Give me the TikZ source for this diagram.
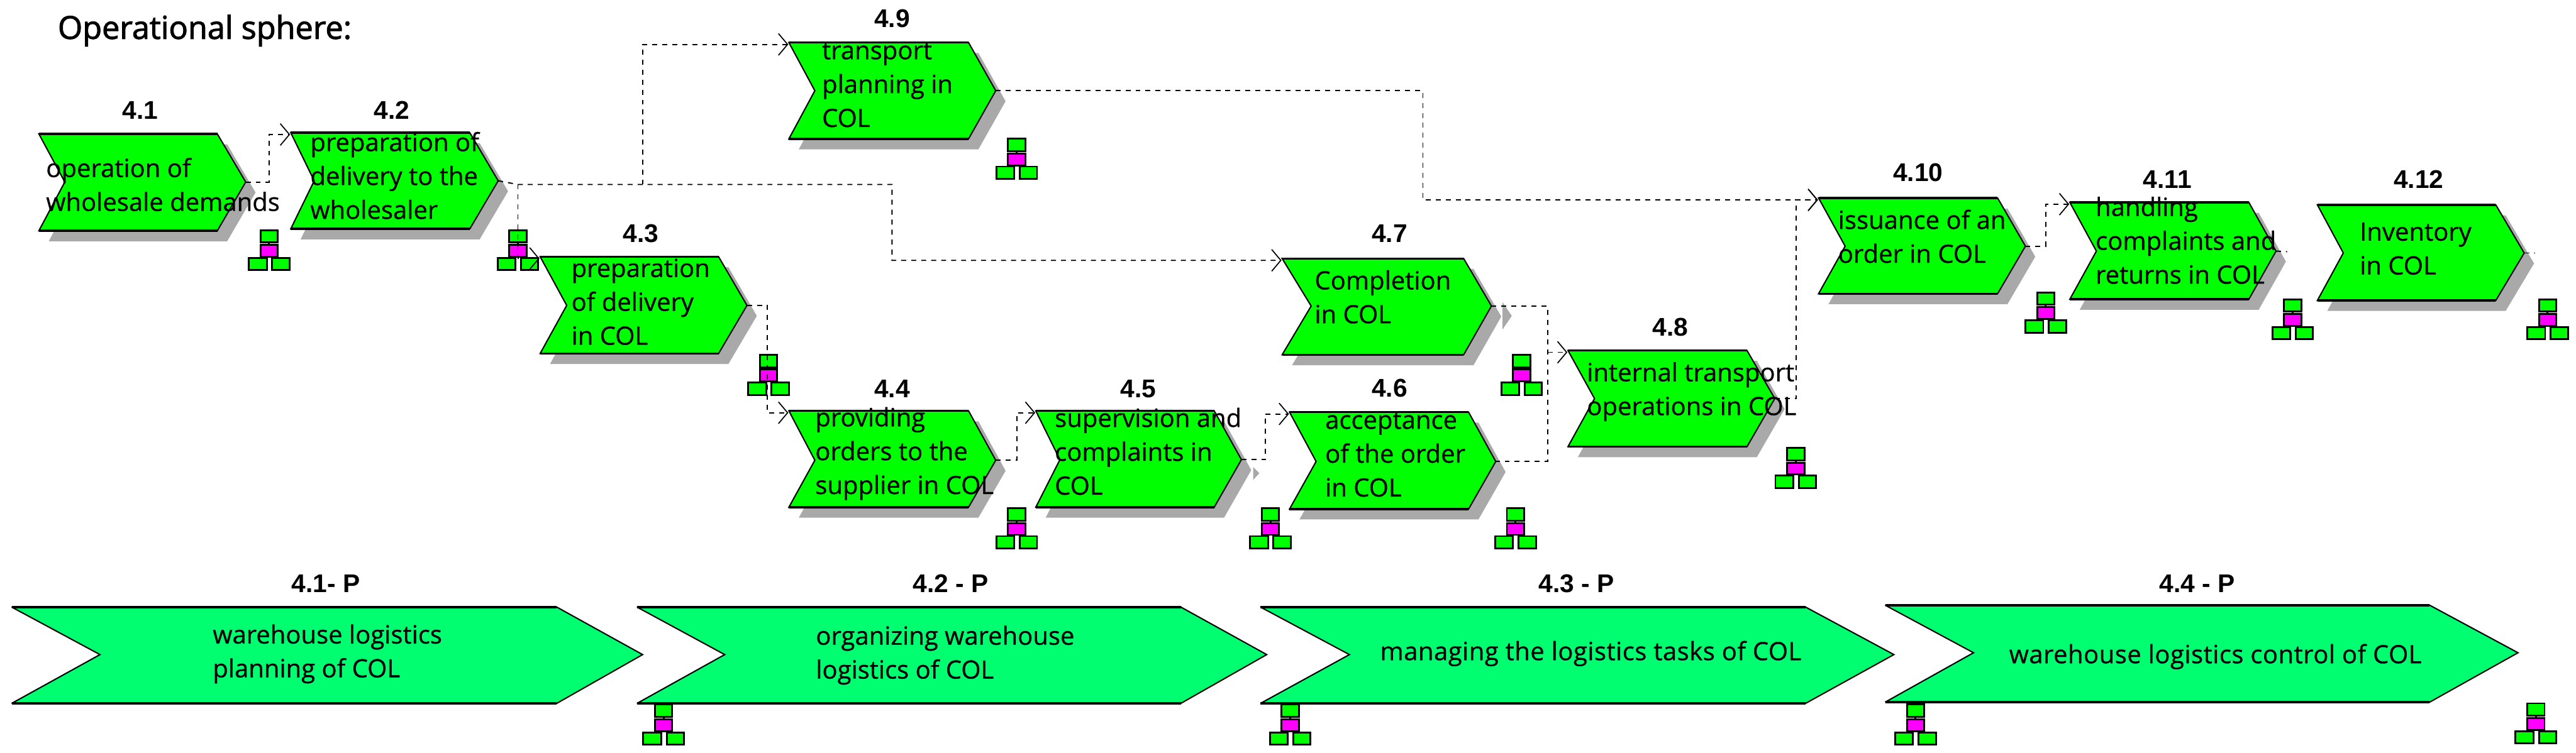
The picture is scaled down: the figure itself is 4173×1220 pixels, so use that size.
\documentclass[tikz,border=0pt]{standalone}
\usepackage{fontspec}
\setmainfont[FakeBold=0.7]{Open Sans}
\newfontfamily\numfont{Liberation Sans}[BoldFont={Liberation Sans Bold}]
\newfontfamily\titlefont[FakeBold=2]{Open Sans}
\usetikzlibrary{arrows.meta}
\definecolor{procgreen}{HTML}{00FF00}
\definecolor{phasegreen}{HTML}{00FF70}
\definecolor{shadowgray}{HTML}{A9A9A9}
\definecolor{orgmagenta}{HTML}{FF00FF}
\tikzset{
  procshape/.style={fill=procgreen,draw=black,line width=0.6pt,line join=miter,miter limit=3},
  phaseshape/.style={fill=phasegreen,draw=black,line width=0.6pt,line join=miter,miter limit=3},
  edgeline/.style={draw=black,line width=1pt},
  shadowshape/.style={fill=shadowgray,draw=none},
  proctext/.style={inner sep=0pt,anchor=base west,font=\fontsize{11.6}{15.6}\selectfont},
  numlabel/.style={inner sep=0pt,anchor=center,font=\numfont\bfseries\fontsize{11.8}{14}\selectfont},
  conn/.style={draw=black,line width=0.55pt,dash pattern=on 2.3pt off 2.3pt},
  connarrow/.style={conn,-{Straight Barb[length=4.2pt,width=10pt,line width=0.5pt]}},
  orgbox/.style={draw=black,line width=0.85pt},
}
\newcommand{\chevshape}[8]{% name, xTL, xNotch, xTR, xTip, yTop, yMid, yBot
  \fill[shadowshape] (#2+16,#6+17) -- (#4+16,#6+17) -- (#5+16,#7+17) -- (#4+16,#8+17) -- (#2+16,#8+17) -- (#3+16,#7+17) -- cycle;
  \draw[procshape] (#2,#6) -- (#4,#6) -- (#5,#7) -- (#4,#8) -- (#2,#8) -- (#3,#7) -- cycle;
  \draw[edgeline] (#2,#6) -- (#4,#6) (#2,#8) -- (#4,#8);
  \coordinate (#1-w) at (#2-1,#6+3);
  \coordinate (#1-e) at (#5,#7);
}
\newcommand{\phaseshape}[7]{% xTL, xNotch, xTR, xTip, yTop, yMid, yBot
  \draw[phaseshape] (#1,#5) -- (#3,#5) -- (#4,#6) -- (#3,#7) -- (#1,#7) -- (#2,#6) -- cycle;
  \draw[edgeline] (#1,#5) -- (#3,#5) (#1,#7) -- (#3,#7);
}
\newcommand{\chevtext}[4]{% name, x, first baseline, lines
  \node[proctext] (#1) at (#2,#3) {\begin{tabular}[t]{@{}l@{}}#4\end{tabular}};
}
\newcommand{\orgicon}[2]{% cx, top
  \begin{scope}[shift={(#1,#2)}]
    \draw[black,line width=0.85pt] (0,20) -- (0,24) (-11,34) -- (-11,45) (14,36) -- (14,45) (-14,43) -- (14,43);
    \draw[orgbox,fill=procgreen] (-14,0) rectangle (14,20);
    \draw[orgbox,fill=orgmagenta] (-14,24) rectangle (14,43);
    \draw[orgbox,fill=procgreen] (-33,45) rectangle (-4,65);
    \draw[orgbox,fill=procgreen] (5,45) rectangle (33,65);
  \end{scope}
}
\begin{document}
\begin{tikzpicture}[x=0.01cm,y=-0.01cm]
\useasboundingbox (0,0) rectangle (4173,1220);
\node[inner sep=0pt,anchor=base west,font=\titlefont\fontsize{14.6}{17}\selectfont] (title) at (93,63) {Operational sphere:};

% process chevrons
\chevshape{p41}{63}{105}{352}{398}{217}{295}{374}
\chevshape{p42}{471}{509}{761}{807}{215}{293}{371}
\chevshape{p43}{875}{918}{1164}{1210}{416}{495}{573}
\chevshape{p49}{1278}{1320}{1569}{1613}{69}{147}{225}
\chevshape{p47}{2077}{2124}{2371}{2416}{419}{496}{575}
\chevshape{p44}{1278}{1320}{1569}{1613}{666}{746}{822}
\chevshape{p45}{1678}{1717}{1967}{2011}{666}{745}{822}
\chevshape{p46}{2089}{2132}{2379}{2423}{668}{748}{825}
\chevshape{p48}{2540}{2583}{2830}{2875}{568}{646}{724}
\chevshape{p410}{2946}{2989}{3236}{3281}{321}{399}{476}
\chevshape{p411}{3353}{3396}{3643}{3687}{328}{407}{485}
\chevshape{p412}{3754}{3796}{4043}{4089}{332}{410}{487}

% small grey slivers
\fill[shadowshape] (2434,490) -- (2449,512) -- (2434,534) -- cycle;
\fill[shadowshape] (2030,757) -- (2040,767) -- (2030,778) -- cycle;

% phase chevrons
\phaseshape{19}{162}{902}{1041}{984}{1061}{1140}
\phaseshape{1032}{1174}{1913}{2052}{984}{1061}{1140}
\phaseshape{2042}{2186}{2925}{3068}{984}{1061}{1140}
\phaseshape{3054}{3197}{3936}{4079}{981}{1058}{1138}

% organisation icons
\orgicon{436}{373}
\orgicon{839}{373}
\orgicon{1245}{575}
\orgicon{1647}{225}
\orgicon{2465}{575}
\orgicon{2455}{824}
\orgicon{1647}{824}
\orgicon{2058}{824}
\orgicon{2909}{726}
\orgicon{3314}{474}
\orgicon{3714}{485}
\orgicon{4127}{485}
\orgicon{1075}{1142}
\orgicon{2090}{1142}
\orgicon{3103}{1142}
\orgicon{4108}{1140}

% junctions
\coordinate (j2) at (839,299);
\coordinate (j2b) at (1041,299);
\coordinate (j2c) at (1445,299);
\coordinate (j78a) at (2507,496);
\coordinate (j78b) at (2507,748);
\coordinate (j78c) at (j78a |- p48-w);
\coordinate (end411) at (3705,408);
\coordinate (end412) at (4107,410);

% connectors
\draw[connarrow] (p41-e) -- ++(38,0) |- (p42-w);
\draw[connarrow] (p42-e) -- (j2) -- (j2c) |- (p47-w);
\draw[connarrow] (j2b) |- (p49-w);
\draw[connarrow] (j2) |- (p43-w);
\draw[connarrow] (p43-e) -- ++(33,0) |- (p44-w);
\draw[connarrow] (p44-e) -- ++(34,0) |- (p45-w);
\draw[connarrow] (p45-e) -- ++(39,0) |- (p46-w);
\draw[conn] (p47-e) -- (j78a) -- (j78b) -- (p46-e);
\draw[connarrow] (j78c) -- (p48-w);
\draw[connarrow] (p49-e) -- ++(692,0) |- (p410-w);
\draw[connarrow] (p48-e) -- ++(35,0) |- (p410-w);
\draw[connarrow] (p410-e) -- ++(33,0) |- (p411-w);
\draw[conn] (p411-e) -- (end411);
\draw[conn] (p412-e) -- (end412);

% process texts
\chevtext{t41}{74}{287}{operation of\\wholesale demands}
\chevtext{t42}{502}{245}{preparation of\\delivery to the\\wholesaler}
\chevtext{t43}{925}{449}{preparation\\of delivery\\in COL}
\chevtext{t49}{1331}{96}{transport\\planning in\\COL}
\chevtext{t47}{2129}{469}{Completion\\in COL}
\chevtext{t44}{1320}{691}{providing\\orders to the\\supplier in COL}
\chevtext{t45}{1708}{692}{supervision and\\complaints in\\COL}
\chevtext{t46}{2146}{695}{acceptance\\of the order\\in COL}
\chevtext{t48}{2570}{618}{internal transport\\operations in COL}
\chevtext{t410}{2977}{371}{issuance of an\\order in COL}
\chevtext{t411}{3394}{350}{handling\\complaints and\\returns in COL}
\chevtext{t412}{3822}{390}{Inventory\\in COL}
\chevtext{tp1}{344}{1043}{warehouse logistics\\planning of COL}
\chevtext{tp2}{1321}{1045}{organizing warehouse\\logistics of COL}
\chevtext{tp3}{2235}{1070}{\addfontfeature{LetterSpace=1.2}managing the logistics tasks of COL}
\chevtext{tp4}{3254}{1075}{\addfontfeature{LetterSpace=1.2}warehouse logistics control of COL}

% number labels
\node[numlabel] (n41) at (227,179) {4.1};
\node[numlabel] (n42) at (635,179) {4.2};
\node[numlabel] (n43) at (1038,378) {4.3};
\node[numlabel] (n49) at (1445,30) {4.9};
\node[numlabel] (n47) at (2251,378) {4.7};
\node[numlabel] (n48) at (2706,530) {4.8};
\node[numlabel] (n46) at (2251,629) {4.6};
\node[numlabel] (n44) at (1445,630) {4.4};
\node[numlabel] (n45) at (1844,630) {4.5};
\node[numlabel] (n410) at (3107,280) {4.10};
\node[numlabel] (n411) at (3511,291) {4.11};
\node[numlabel] (n412) at (3918,291) {4.12};
\node[numlabel] (np1) at (528,946) {4.1- P};
\node[numlabel] (np2) at (1540,946) {4.2 - P};
\node[numlabel] (np3) at (2554,946) {4.3 - P};
\node[numlabel] (np4) at (3559,946) {4.4 - P};
\end{tikzpicture}
\end{document}
